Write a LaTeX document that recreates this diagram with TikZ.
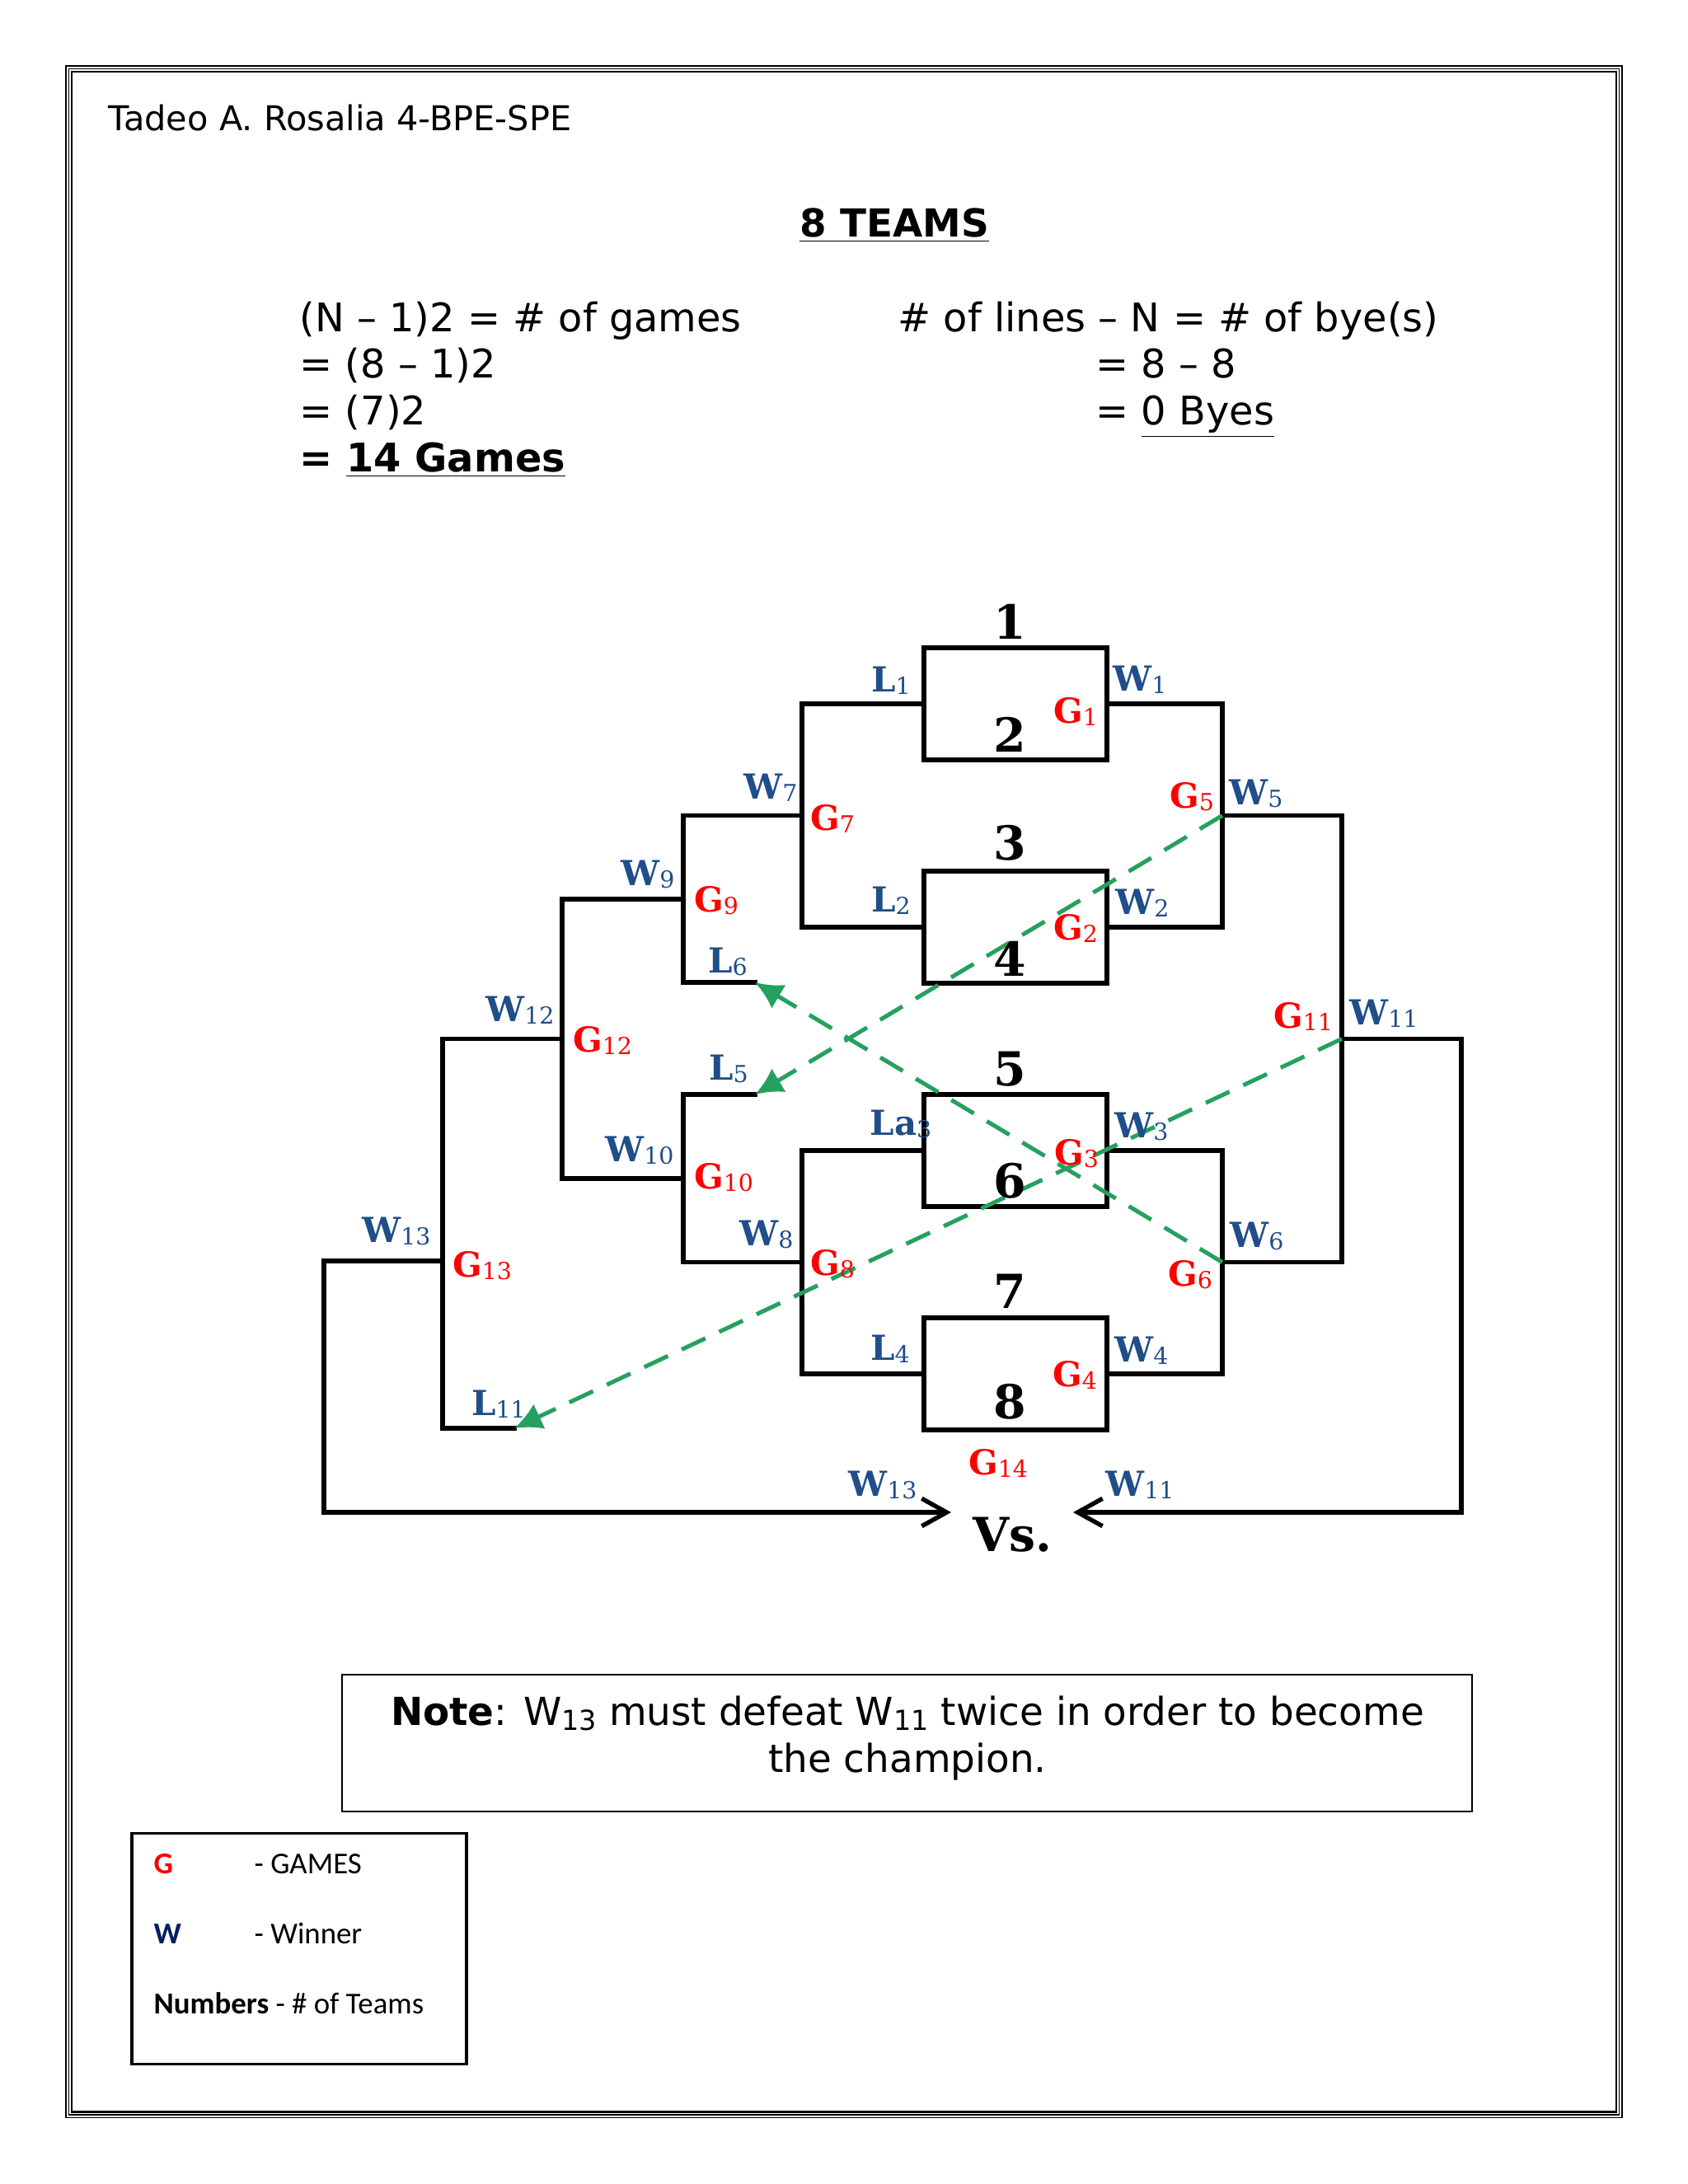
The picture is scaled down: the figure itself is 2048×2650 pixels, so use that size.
\documentclass[tikz,border=0pt]{standalone}
\usepackage{fontspec}
\setmainfont{DejaVu Sans}
\newfontfamily\slabfont{DejaVu Serif}
\newfontfamily\calfont{Carlito}
\usetikzlibrary{arrows.meta}
\definecolor{lblue}{HTML}{1F4E89}
\definecolor{gred}{HTML}{FF0000}
\definecolor{agreen}{HTML}{25A05E}
\definecolor{navyw}{HTML}{002060}
\newcommand{\sbs}[1]{\raisebox{-0.9pt}{\mdseries\fontsize{8.5}{9}\selectfont #1}}
\newcommand{\nsub}[1]{\raisebox{-2pt}{\fontsize{10}{10}\selectfont #1}}
\begin{document}
\begin{tikzpicture}[x=0.2988pt,y=-0.2988pt,
  bline/.style={line width=1.6pt,line join=miter,line cap=rect},
  wl/.style={text=lblue,inner sep=0pt,font=\slabfont\bfseries\fontsize{12.5}{13}\selectfont},
  gl/.style={text=gred,inner sep=0pt,font=\slabfont\bfseries\fontsize{12.5}{13}\selectfont},
  num/.style={inner sep=0pt,font=\slabfont\bfseries\fontsize{17}{17}\selectfont},
  gdash/.style={draw=agreen,line width=1.5pt,dash pattern=on 9.5pt off 5.5pt,-{Latex[length=10pt,width=10pt]}},
  vsarrow/.style={line width=1.6pt,line join=miter,-{Straight Barb[length=9pt,width=10pt,line width=1.6pt]}},
  txt/.style={inner sep=0pt,anchor=base west},
  lg/.style={inner sep=0pt,anchor=base west,font=\calfont\fontsize{11}{13}\selectfont}]
\useasboundingbox (0,0) rectangle (2048,2650);
\fill[white] (0,0) rectangle (2048,2650);
% page border
\draw[line width=0.35pt] (80,80) rectangle (1968,2569.5);
\draw[line width=0.35pt] (83.5,83.5) rectangle (1964.5,2566);
\draw[line width=0.75pt] (87,87) rectangle (1961,2562.5);

% header texts
\node[txt,font=\fontsize{12.4}{14}\selectfont] (hdr) at (131,158) {Tadeo A. Rosalia 4-BPE-SPE};
\node[inner sep=0pt,anchor=base,font=\bfseries\fontsize{14}{17}\selectfont] (title) at (1085,287) {\underline{8 TEAMS}};
\node[txt,font=\fontsize{14.3}{17}\selectfont] (f1) at (363,402) {(N – 1)2 = \# of games};
\node[txt,font=\fontsize{14.3}{17}\selectfont] (f2) at (363,458) {= (8 – 1)2};
\node[txt,font=\fontsize{14.3}{17}\selectfont] (f3) at (363,515) {= (7)2};
\node[txt,font=\bfseries\fontsize{14.3}{17}\selectfont] (f4) at (363,572) {= \underline{14 Games}};
\node[txt,font=\fontsize{14.3}{17}\selectfont] (b1) at (1089,402) {\# of lines – N = \# of bye(s)};
\node[txt,font=\fontsize{14.3}{17}\selectfont] (b2) at (1329,458) {= 8 – 8};
\node[txt,font=\fontsize{14.3}{17}\selectfont] (b3) at (1329,515) {= \underline{0 Byes}};

% junction coordinates
\coordinate (g5) at (1483,989.5);
\coordinate (g6) at (1483,1531.5);
\coordinate (g11) at (1628,1260.5);
\coordinate (l5) at (916,1328);
\coordinate (l6) at (916,1192);
\coordinate (l11) at (624,1733);
\coordinate (vsl) at (1154,1835);
\coordinate (vsr) at (1302,1835);

% boxes (games 1-4)
\draw[bline] (1121,786) rectangle (1343,922);
\draw[bline] (1121,1057) rectangle (1343,1193);
\draw[bline] (1121,1328) rectangle (1343,1464);
\draw[bline] (1121,1599) rectangle (1343,1735);

% winners side
\draw[bline] (1343,854) -- (1483,854) -- (1483,1125) -- (1343,1125);
\draw[bline] (g5) -- (1628,989.5);
\draw[bline] (1343,1396) -- (1483,1396) -- (1483,1667) -- (1343,1667);
\draw[bline] (g6) -- (1628,1531.5);
\draw[bline] (1628,989.5) -- (1628,1531.5);
\draw[vsarrow] (g11) -- (1773,1260.5) -- (1773,1835) -- (vsr);

% losers side
\draw[bline] (1121,854) -- (973,854) -- (973,1125) -- (1121,1125);
\draw[bline] (973,989.5) -- (829,989.5) -- (829,1192) -- (l6);
\draw[bline] (1121,1396) -- (973,1396) -- (973,1667) -- (1121,1667);
\draw[bline] (973,1531.5) -- (829,1531.5) -- (829,1328) -- (l5);
\draw[bline] (829,1091) -- (682,1091) -- (682,1430) -- (829,1430);
\draw[bline] (682,1260.5) -- (537,1260.5) -- (537,1733) -- (l11);
\draw[vsarrow] (537,1530) -- (393,1530) -- (393,1835) -- (vsl);

% green dashed arrows
\draw[gdash] (g5) -- (l5);
\draw[gdash] (g6) -- (l6);
\draw[gdash] (g11) -- (l11);

% team numbers
\node[num] (n1) at (1225,754) {1};
\node[num] (n2) at (1225,891) {2};
\node[num] (n3) at (1225,1023) {3};
\node[num] (n4) at (1225,1163) {4};
\node[num] (n5) at (1225,1297) {5};
\node[num] (n6) at (1225,1433) {6};
\node[num] (n7) at (1225,1567) {7};
\node[num] (n8) at (1225,1701) {8};
\node[inner sep=0pt,anchor=base,font=\slabfont\bfseries\fontsize{17}{17}\selectfont] (vs) at (1228,1882) {Vs.};

% blue labels
\node[wl] (tL1) at (1081,826) {L\sbs{1}};
\node[wl] (tW1) at (1383,825) {W\sbs{1}};
\node[wl] (tL2) at (1081,1093) {L\sbs{2}};
\node[wl] (tW2) at (1386,1096) {W\sbs{2}};
\node[wl] (tW7) at (935,956) {W\sbs{7}};
\node[wl] (tW5) at (1524,963) {W\sbs{5}};
\node[wl] (tW9) at (786,1061) {W\sbs{9}};
\node[wl] (tL6) at (883,1167) {L\sbs{6}};
\node[wl] (tW12) at (631,1226) {W\sbs{12}};
\node[wl] (tW11) at (1679,1230) {W\sbs{11}};
\node[wl] (tL5) at (884,1297) {L\sbs{5}};
\node[wl] (tLa3) at (1093,1364) {La\sbs{3}};
\node[wl] (tW3) at (1385,1367) {W\sbs{3}};
\node[wl] (tW10) at (776,1396) {W\sbs{10}};
\node[wl] (tW13) at (481,1494) {W\sbs{13}};
\node[wl] (tW8) at (930,1498) {W\sbs{8}};
\node[wl] (tW6) at (1525,1500) {W\sbs{6}};
\node[wl] (tL4) at (1080,1637) {L\sbs{4}};
\node[wl] (tW4) at (1385,1639) {W\sbs{4}};
\node[wl] (tL11) at (605,1704) {L\sbs{11}};
\node[wl] (tW13b) at (1071,1802) {W\sbs{13}};
\node[wl] (tW11b) at (1383,1802) {W\sbs{11}};

% red labels
\node[gl] (tG1) at (1305,863) {G\sbs{1}};
\node[gl] (tG2) at (1305,1126) {G\sbs{2}};
\node[gl] (tG3) at (1306,1400) {G\sbs{3}};
\node[gl] (tG4) at (1304,1668) {G\sbs{4}};
\node[gl] (tG7) at (1010,993) {G\sbs{7}};
\node[gl] (tG5) at (1446,967) {G\sbs{5}};
\node[gl] (tG9) at (869,1093) {G\sbs{9}};
\node[gl] (tG11) at (1581,1233) {G\sbs{11}};
\node[gl] (tG12) at (731,1262) {G\sbs{12}};
\node[gl] (tG10) at (878,1429) {G\sbs{10}};
\node[gl] (tG13) at (585,1536) {G\sbs{13}};
\node[gl] (tG8) at (1010,1534) {G\sbs{8}};
\node[gl] (tG6) at (1444,1547) {G\sbs{6}};
\node[gl] (tG14) at (1211,1775) {G\sbs{14}};

% note box
\draw[line width=0.8pt] (415,2032) rectangle (1786,2198);
\node[inner sep=0pt,anchor=base,font=\fontsize{14}{17}\selectfont] (note1) at (1101,2093) {\textbf{Note}: W\nsub{13} must defeat W\nsub{11} twice in order to become};
\node[inner sep=0pt,anchor=base,font=\fontsize{14}{17}\selectfont] (note2) at (1101,2150) {the champion.};

% legend box
\draw[line width=0.9pt] (160,2224) rectangle (566,2504);
\node[lg,text=gred] (lgG) at (186,2273) {\bfseries G};
\node[lg] (lgG2) at (308,2273) {- GAMES};
\node[lg,text=navyw] (lgW) at (186,2358) {\bfseries W};
\node[lg] (lgW2) at (308,2358) {- Winner};
\node[lg] (lgN) at (186,2443) {\textbf{Numbers} - \# of Teams};
\end{tikzpicture}
\end{document}
